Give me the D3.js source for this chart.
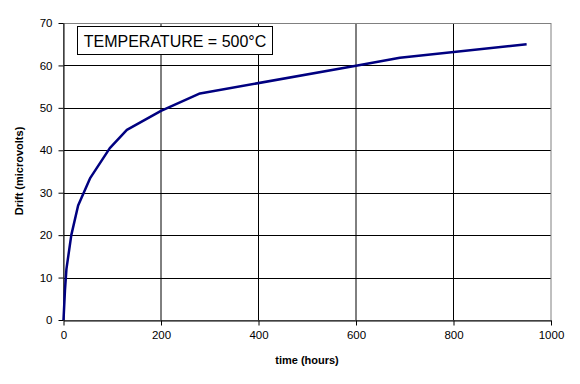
<!DOCTYPE html>
<html lang="en">
<head>
  <meta charset="utf-8">
  <title>Drift at 500°C</title>
  <script src="https://d3js.org/d3.v7.min.js"></script>
  <style>
    body { margin: 0; background: #fff; }
    text { font-family: "Liberation Sans", Arial, sans-serif; }
  </style>
</head>
<body>
<div id="chart"></div>
<script>
  // drift readings
  var hours = [0, 3, 6, 16, 30, 55, 95, 130, 200, 280, 600, 690, 950];
  var drift = [0, 7, 12, 20, 27, 33.5, 40.5, 44.8, 49.3, 53.4, 59.9, 61.8, 65];
  var xTicks = [0, 200, 400, 600, 800, 1000];
  var yTicks = [0, 10, 20, 30, 40, 50, 60, 70];

  var width = 580, height = 384;
  var x = d3.scaleLinear().domain([0, 1000]).range([63.5, 551]);
  var y = d3.scaleLinear().domain([0, 70]).range([320, 23]);

  var svg = d3.select("#chart").append("svg")
      .attr("width", width)
      .attr("height", height);

  // grid
  svg.append("g").selectAll("line")
      .data(yTicks.filter(function(d) { return d > 0 && d < 70; }))
    .enter().append("line")
      .attr("x1", x(0)).attr("x2", x(1000))
      .attr("y1", function(d) { return Math.round(y(d)) + 0.5; })
      .attr("y2", function(d) { return Math.round(y(d)) + 0.5; })
      .attr("stroke", "#000");

  svg.append("g").selectAll("line")
      .data(xTicks.filter(function(d) { return d > 0 && d < 1000; }))
    .enter().append("line")
      .attr("x1", function(d) { return x(d); })
      .attr("x2", function(d) { return x(d); })
      .attr("y1", y(0)).attr("y2", y(70))
      .attr("stroke", "#000");

  // plot border
  svg.append("rect")
      .attr("x", x(0)).attr("y", Math.round(y(70)) + 0.5)
      .attr("width", x(1000) - x(0)).attr("height", y(0) - y(70))
      .attr("fill", "none")
      .attr("stroke", "#808080");

  // axes
  var xAxis = svg.append("g")
      .attr("transform", "translate(0," + (y(0) + 0.5) + ")")
      .call(d3.axisBottom(x).tickValues(xTicks).tickFormat(d3.format("d"))
          .tickSize(5).tickPadding(5).tickSizeOuter(0));
  var yAxis = svg.append("g")
      .attr("transform", "translate(" + x(0) + ",0)")
      .call(d3.axisLeft(y).tickValues(yTicks).tickFormat(d3.format("d"))
          .tickSize(5).tickPadding(6).tickSizeOuter(0));

  [xAxis, yAxis].forEach(function(g) {
    g.selectAll("text")
        .attr("font-size", 11.5)
        .attr("font-family", "Liberation Sans, Arial, sans-serif")
        .attr("fill", "#000");
    g.selectAll("line, path").attr("stroke", "#000");
  });

  // curve
  var pts = hours.map(function(h, i) { return [h, drift[i]]; });
  svg.append("path")
      .datum(pts)
      .attr("fill", "none")
      .attr("stroke", "#000080")
      .attr("stroke-width", 2.5)
      .attr("stroke-linejoin", "round")
      .attr("d", d3.line()
          .x(function(d) { return x(d[0]); })
          .y(function(d) { return y(d[1]); }));

  // axis titles
  svg.append("text")
      .attr("x", 307).attr("y", 364)
      .attr("text-anchor", "middle")
      .attr("font-size", 11).attr("font-weight", "bold")
      .text("time (hours)");

  svg.append("text")
      .attr("transform", "translate(23,171) rotate(-90)")
      .attr("text-anchor", "middle")
      .attr("font-size", 11).attr("font-weight", "bold")
      .text("Drift (microvolts)");

  // temperature label
  svg.append("rect")
      .attr("x", 77.5).attr("y", 26.5)
      .attr("width", 195).attr("height", 28)
      .attr("fill", "#fff")
      .attr("stroke", "#000");
  svg.append("text")
      .attr("x", 175).attr("y", 47)
      .attr("text-anchor", "middle")
      .attr("font-size", 16)
      .text("TEMPERATURE = 500°C");
</script>
</body>
</html>
